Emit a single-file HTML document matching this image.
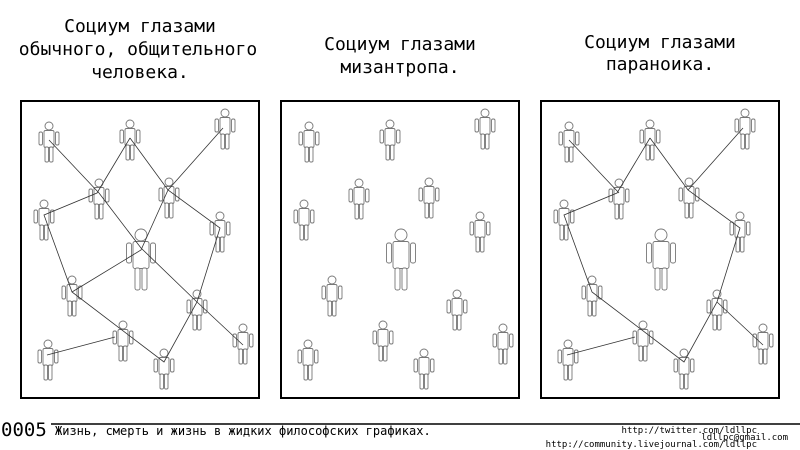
<!DOCTYPE html>
<html><head><meta charset="utf-8"><style>
html,body{margin:0;padding:0;background:#fff;}
svg{display:block;}
text{font-family:"DejaVu Sans Mono","Liberation Mono",monospace;fill:#000;}
</style></head><body>
<svg width="800" height="450" viewBox="0 0 800 450" xmlns="http://www.w3.org/2000/svg">
<defs>
<g id="p" fill="#fff" stroke="#777" stroke-width="0.9">
 <circle cx="0" cy="0" r="4"/>
 <rect x="-5" y="4.5" width="10" height="17" rx="1.5"/>
 <rect x="-10" y="6" width="3.5" height="13" rx="1.5"/>
 <rect x="6.5" y="6" width="3.5" height="13" rx="1.5"/>
 <rect x="-4" y="21" width="3.5" height="15" rx="1.2"/>
 <rect x="0.5" y="21" width="3.5" height="15" rx="1.2"/>
</g>
<g id="b" fill="#fff" stroke="#777" stroke-width="0.9">
 <circle cx="0" cy="0" r="6"/>
 <rect x="-8" y="6.5" width="16" height="27" rx="2"/>
 <rect x="-14.5" y="8" width="5" height="20" rx="2"/>
 <rect x="9.5" y="8" width="5" height="20" rx="2"/>
 <rect x="-6" y="33" width="5" height="22" rx="2"/>
 <rect x="1" y="33" width="5" height="22" rx="2"/>
</g>
<g id="figs">
 <use href="#p" x="49" y="126"/>
 <use href="#p" x="130" y="124"/>
 <use href="#p" x="225" y="113"/>
 <use href="#p" x="99" y="183"/>
 <use href="#p" x="169" y="182"/>
 <use href="#p" x="44" y="204"/>
 <use href="#p" x="220" y="216"/>
 <use href="#b" x="141" y="235"/>
 <use href="#p" x="72" y="280"/>
 <use href="#p" x="197" y="294"/>
 <use href="#p" x="123" y="325"/>
 <use href="#p" x="243" y="328"/>
 <use href="#p" x="48" y="344"/>
 <use href="#p" x="164" y="353"/>
</g>
<g id="ring" fill="none" stroke="#333" stroke-width="0.8">
 <polyline points="49,140 99,193"/>
 <polyline points="130,138 97,193 44,215 72,292 164,362 197,302 220,228 168,190 130,138"/>
 <polyline points="223,128 168,190"/>
 <polyline points="197,302 243,345"/>
 <polyline points="47,355 115,337"/>
</g>
</defs>

<!-- titles -->
<g font-size="18" text-anchor="middle">
<text x="140" y="32">Социум глазами</text>
<text x="138" y="55">обычного, общительного</text>
<text x="140" y="78">человека.</text>
<text x="400" y="50">Социум глазами</text>
<text x="400" y="73">мизантропа.</text>
<text x="660" y="48">Социум глазами</text>
<text x="660" y="70">параноика.</text>
</g>

<!-- panels -->
<g fill="none" stroke="#000" stroke-width="2">
<rect x="21" y="101" width="238" height="297"/>
<rect x="281" y="101" width="238" height="297"/>
<rect x="541" y="101" width="238" height="297"/>
</g>

<!-- panel 1 -->
<use href="#figs"/>
<use href="#ring"/>
<g fill="none" stroke="#333" stroke-width="0.8">
 <polyline points="99,193 141,248 197,302"/>
 <polyline points="168,190 141,250 72,292"/>
</g>

<!-- panel 2 -->
<use href="#figs" x="260"/>

<!-- panel 3 -->
<use href="#figs" x="520"/>
<use href="#ring" x="520"/>

<!-- footer -->
<line x1="51" y1="424" x2="800" y2="424" stroke="#000" stroke-width="1.5"/>
<text x="1" y="436" font-size="19">0005</text>
<text x="55" y="435" font-size="12">Жизнь, смерть и жизнь в жидких философских графиках.</text>
<g font-size="9" text-anchor="end">
<text x="757" y="433">http://twitter.com/ldllpc</text>
<text x="788" y="440">ldllpc@gmail.com</text>
<text x="757" y="447">http://community.livejournal.com/ldllpc</text>
</g>
</svg>
</body></html>
